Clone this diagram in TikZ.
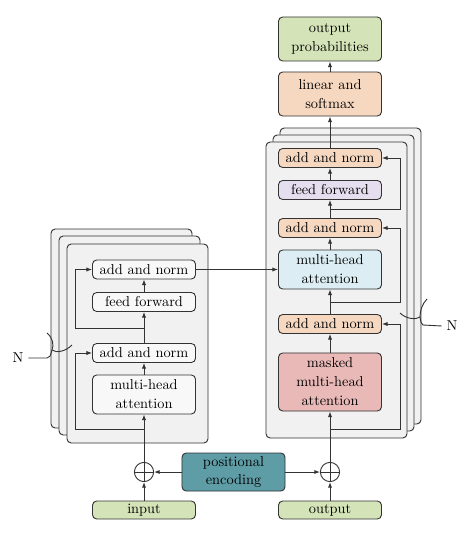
\documentclass[tikz,border=0pt]{standalone}
\usepackage{xcolor}
\definecolor{probgreen}{HTML}{D5E4B8}
\definecolor{peach}{HTML}{F6D7BF}
\definecolor{lavender}{HTML}{E4DEEF}
\definecolor{attnblue}{HTML}{DCEEF4}
\definecolor{maskpink}{HTML}{E9B9B8}
\definecolor{posteal}{HTML}{5E9CA6}
\definecolor{framegray}{HTML}{F1F1F1}
\definecolor{boxgray}{HTML}{F8F8F8}
\definecolor{edgegray}{HTML}{333333}
\usetikzlibrary{arrows.meta, positioning}

\begin{document}
\begin{tikzpicture}[x=0.025cm, y=-0.025cm,
  every node/.style={font=\fontsize{10.2}{13.5}\selectfont, text=black},
  box/.style={draw=edgegray, line width=0.65pt, rounded corners=3pt, align=center,
              minimum width=2.575cm, inner sep=1pt},
  onerow/.style={box, minimum height=0.475cm},
  tworow/.style={box, minimum height=0.975cm},
  frame/.style={draw=edgegray, fill=framegray, line width=0.65pt, rounded corners=3pt},
  wire/.style={draw=edgegray, line width=0.65pt},
  arr/.style={wire, -{Latex[length=4pt,width=3pt]}},
  addnode/.style={draw=edgegray, line width=0.65pt, circle, minimum size=0.48cm, inner sep=0pt,
    path picture={\draw[edgegray, line width=0.65pt]
      (path picture bounding box.north) -- (path picture bounding box.south)
      (path picture bounding box.west) -- (path picture bounding box.east);}}]
  \useasboundingbox (0,0) rectangle (474,537);

  % stacked layers
  \foreach \dx/\dy in {-16/-15, -8/-8, 0/0}{%
    \filldraw[frame] ({67+\dx},{244+\dy}) rectangle ({208+\dx},{443+\dy});
  }
  \foreach \dx/\dy in {14/-14, 7/-7, 0/0}{%
    \filldraw[frame] ({266+\dx},{142+\dy}) rectangle ({407+\dx},{438+\dy});
  }

  % encoder
  \node[tworow, fill=boxgray] (enc-mha) at (144,394.5) {multi-head\\attention};
  \node[onerow, fill=boxgray] (enc-an1) at (144,353) {add and norm};
  \node[onerow, fill=boxgray] (enc-ff) at (144,302) {feed forward};
  \node[onerow, fill=boxgray] (enc-an2) at (144,269.5) {add and norm};

  % decoder
  \node[box, fill=maskpink, minimum height=1.45cm] (dec-mmha) at (330,382) {masked\\multi-head\\attention};
  \node[onerow, fill=peach] (dec-an1) at (330,324) {add and norm};
  \node[tworow, fill=attnblue] (dec-mha) at (330,269.5) {multi-head\\attention};
  \node[onerow, fill=peach] (dec-an2) at (330,228) {add and norm};
  \node[onerow, fill=lavender] (dec-ff) at (330,190) {feed forward};
  \node[onerow, fill=peach] (dec-an3) at (330,158) {add and norm};
  \node[box, fill=peach, minimum height=1.1cm] (lin) at (330,94) {linear and\\softmax};
  \node[box, fill=probgreen, minimum height=1.1cm] (outprob) at (330,39) {output\\probabilities};

  % inputs
  \node[addnode] (enc-plus) at (144,472) {};
  \node[addnode] (dec-plus) at (330,472) {};
  \node[box, fill=posteal, minimum height=0.95cm] (posenc) at (233.5,472) {positional\\encoding};
  \node[onerow, fill=probgreen, minimum height=0.45cm] (input) at (144,510) {input};
  \node[onerow, fill=probgreen, minimum height=0.45cm] (output) at (330,510) {output};

  \node (enc-N) at (18,358) {N};
  \node (dec-N) at (452,326) {N};

  % encoder wiring
  \draw[arr] (input) -- (enc-plus);
  \draw[arr] (posenc) -- (enc-plus);
  \draw[arr] (enc-plus) -- (enc-mha);
  \draw[arr] (enc-mha) -- (enc-an1);
  \draw[arr] (enc-an1) -- (enc-ff);
  \draw[arr] (enc-ff) -- (enc-an2);
  \coordinate (e1) at (144,429);
  \coordinate (e2) at (144,328);
  \draw[arr] (e1) -- ++(-69,0) |- (enc-an1.west);
  \draw[arr] (e2) -- ++(-69,0) |- (enc-an2.west);
  \draw[arr] (enc-an2.east) -- (dec-mha.west);

  % decoder wiring
  \draw[arr] (output) -- (dec-plus);
  \draw[arr] (posenc) -- (dec-plus);
  \draw[arr] (dec-plus) -- (dec-mmha);
  \draw[arr] (dec-mmha) -- (dec-an1);
  \draw[arr] (dec-an1) -- (dec-mha);
  \draw[arr] (dec-mha) -- (dec-an2);
  \draw[arr] (dec-an2) -- (dec-ff);
  \draw[arr] (dec-ff) -- (dec-an3);
  \draw[arr] (dec-an3) -- (lin);
  \draw[arr] (lin) -- (outprob);
  \coordinate (d1) at (330,429);
  \coordinate (d2) at (330,302);
  \coordinate (d3) at (330,209);
  \draw[arr] (d1) -- ++(70,0) |- (dec-an1.east);
  \draw[arr] (d2) -- ++(70,0) |- (dec-an2.east);
  \draw[arr] (d3) -- ++(70,0) |- (dec-an3.east);

  % N braces
  \draw[wire] (enc-N.east) -- (47,358) .. controls (50,357) .. (52,350);
  \draw[wire] (47,333) .. controls (53,338) and (54,345) .. (52,350)
    .. controls (56,353) and (65,352) .. (72,345);
  \draw[wire] (dec-N.west) -- (423,325) .. controls (421,323) .. (420,317);
  \draw[wire] (427,299) .. controls (422,304) and (420,311) .. (420,317)
    .. controls (416,320) and (406,319) .. (400,313);
\end{tikzpicture}
\end{document}
